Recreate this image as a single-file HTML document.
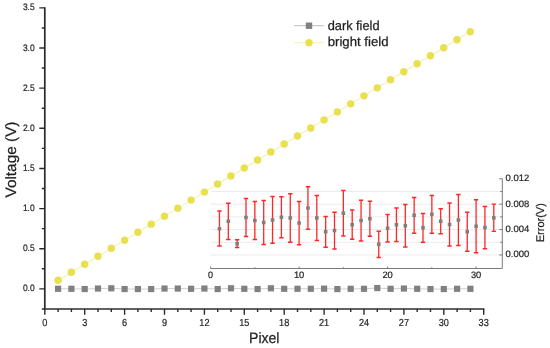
<!DOCTYPE html>
<html><head><meta charset="utf-8"><title>chart</title>
<style>html,body{margin:0;padding:0;background:#fff}body{width:550px;height:348px;overflow:hidden}</style></head>
<body>
<svg width="550" height="348" viewBox="0 0 550 348" style="display:block;font-family:'Liberation Sans', sans-serif;text-rendering:geometricPrecision">
<defs><filter id="soft" x="0" y="0" width="550" height="348" filterUnits="userSpaceOnUse"><feGaussianBlur stdDeviation="0.35"/></filter></defs>
<rect width="550" height="348" fill="#fff"/>
<g filter="url(#soft)">
<g stroke="#2b2b2b" stroke-width="1.7" fill="none">
<path d="M44.8 7.149999999999966 V309 H484.40000000000003"/>
</g>
<g stroke="#2b2b2b" stroke-width="1.4" fill="none">
<path d="M44.8 288.90 h-5.5 M44.8 248.75 h-5.5 M44.8 208.60 h-5.5 M44.8 168.45 h-5.5 M44.8 128.30 h-5.5 M44.8 88.15 h-5.5 M44.8 48.00 h-5.5 M44.8 7.85 h-5.5 M44.8 268.82 h-3 M44.8 228.67 h-3 M44.8 188.52 h-3 M44.8 148.37 h-3 M44.8 108.22 h-3 M44.8 68.07 h-3 M44.8 27.93 h-3 M44.8 308.97 h-3 M44.80 309 v5.8 M58.10 309 v3.1 M71.40 309 v3.1 M84.70 309 v5.8 M98.00 309 v3.1 M111.30 309 v3.1 M124.60 309 v5.8 M137.90 309 v3.1 M151.20 309 v3.1 M164.50 309 v5.8 M177.80 309 v3.1 M191.10 309 v3.1 M204.40 309 v5.8 M217.70 309 v3.1 M231.00 309 v3.1 M244.30 309 v5.8 M257.60 309 v3.1 M270.90 309 v3.1 M284.20 309 v5.8 M297.50 309 v3.1 M310.80 309 v3.1 M324.10 309 v5.8 M337.40 309 v3.1 M350.70 309 v3.1 M364.00 309 v5.8 M377.30 309 v3.1 M390.60 309 v3.1 M403.90 309 v5.8 M417.20 309 v3.1 M430.50 309 v3.1 M443.80 309 v5.8 M457.10 309 v3.1 M470.40 309 v3.1 M483.70 309 v5.8 "/>
</g>
<g fill="#1e1e1e" font-size="9.4" stroke="#1e1e1e" stroke-width="0.2">
<text x="34.7" y="291.40" text-anchor="end" textLength="11.8" lengthAdjust="spacingAndGlyphs">0.0</text>
<text x="34.7" y="251.25" text-anchor="end" textLength="11.8" lengthAdjust="spacingAndGlyphs">0.5</text>
<text x="34.7" y="211.10" text-anchor="end" textLength="11.8" lengthAdjust="spacingAndGlyphs">1.0</text>
<text x="34.7" y="170.95" text-anchor="end" textLength="11.8" lengthAdjust="spacingAndGlyphs">1.5</text>
<text x="34.7" y="130.80" text-anchor="end" textLength="11.8" lengthAdjust="spacingAndGlyphs">2.0</text>
<text x="34.7" y="90.65" text-anchor="end" textLength="11.8" lengthAdjust="spacingAndGlyphs">2.5</text>
<text x="34.7" y="50.50" text-anchor="end" textLength="11.8" lengthAdjust="spacingAndGlyphs">3.0</text>
<text x="34.7" y="10.35" text-anchor="end" textLength="11.8" lengthAdjust="spacingAndGlyphs">3.5</text>
<text x="42.25" y="325.7" font-size="10.2" textLength="5.1" lengthAdjust="spacingAndGlyphs">0</text>
<text x="82.15" y="325.7" font-size="10.2" textLength="5.1" lengthAdjust="spacingAndGlyphs">3</text>
<text x="122.05" y="325.7" font-size="10.2" textLength="5.1" lengthAdjust="spacingAndGlyphs">6</text>
<text x="161.95" y="325.7" font-size="10.2" textLength="5.1" lengthAdjust="spacingAndGlyphs">9</text>
<text x="199.30" y="325.7" font-size="10.2" textLength="10.2" lengthAdjust="spacingAndGlyphs">12</text>
<text x="239.20" y="325.7" font-size="10.2" textLength="10.2" lengthAdjust="spacingAndGlyphs">15</text>
<text x="279.10" y="325.7" font-size="10.2" textLength="10.2" lengthAdjust="spacingAndGlyphs">18</text>
<text x="319.00" y="325.7" font-size="10.2" textLength="10.2" lengthAdjust="spacingAndGlyphs">21</text>
<text x="358.90" y="325.7" font-size="10.2" textLength="10.2" lengthAdjust="spacingAndGlyphs">24</text>
<text x="398.80" y="325.7" font-size="10.2" textLength="10.2" lengthAdjust="spacingAndGlyphs">27</text>
<text x="438.70" y="325.7" font-size="10.2" textLength="10.2" lengthAdjust="spacingAndGlyphs">30</text>
<text x="478.60" y="325.7" font-size="10.2" textLength="10.2" lengthAdjust="spacingAndGlyphs">33</text>
</g>
<text x="249" y="343.3" font-size="15" fill="#1e1e1e" stroke="#1e1e1e" stroke-width="0.25" textLength="30.5" lengthAdjust="spacingAndGlyphs">Pixel</text>
<text transform="translate(15.5 197.5) rotate(-90)" font-size="15" fill="#1e1e1e" stroke="#1e1e1e" stroke-width="0.25" textLength="76" lengthAdjust="spacingAndGlyphs">Voltage (V)</text>
<polyline points="58.10,288.80 71.40,288.80 84.70,289.05 98.00,288.55 111.30,288.29 124.60,289.05 137.90,289.05 151.20,289.05 164.50,288.55 177.80,288.55 191.10,288.80 204.40,288.55 217.70,289.05 231.00,288.29 244.30,288.80 257.60,289.05 270.90,288.29 284.20,288.80 297.50,288.80 310.80,288.80 324.10,288.67 337.40,289.05 350.70,288.80 364.00,288.80 377.30,288.04 390.60,288.80 403.90,288.55 417.20,288.80 430.50,289.05 443.80,289.05 457.10,288.80 470.40,288.80" fill="none" stroke="#cfcfcf" stroke-width="1"/>
<g fill="#808080">
<rect x="55.00" y="285.70" width="6.2" height="6.2"/>
<rect x="68.30" y="285.70" width="6.2" height="6.2"/>
<rect x="81.60" y="285.95" width="6.2" height="6.2"/>
<rect x="94.90" y="285.45" width="6.2" height="6.2"/>
<rect x="108.20" y="285.19" width="6.2" height="6.2"/>
<rect x="121.50" y="285.95" width="6.2" height="6.2"/>
<rect x="134.80" y="285.95" width="6.2" height="6.2"/>
<rect x="148.10" y="285.95" width="6.2" height="6.2"/>
<rect x="161.40" y="285.45" width="6.2" height="6.2"/>
<rect x="174.70" y="285.45" width="6.2" height="6.2"/>
<rect x="188.00" y="285.70" width="6.2" height="6.2"/>
<rect x="201.30" y="285.45" width="6.2" height="6.2"/>
<rect x="214.60" y="285.95" width="6.2" height="6.2"/>
<rect x="227.90" y="285.19" width="6.2" height="6.2"/>
<rect x="241.20" y="285.70" width="6.2" height="6.2"/>
<rect x="254.50" y="285.95" width="6.2" height="6.2"/>
<rect x="267.80" y="285.19" width="6.2" height="6.2"/>
<rect x="281.10" y="285.70" width="6.2" height="6.2"/>
<rect x="294.40" y="285.70" width="6.2" height="6.2"/>
<rect x="307.70" y="285.70" width="6.2" height="6.2"/>
<rect x="321.00" y="285.57" width="6.2" height="6.2"/>
<rect x="334.30" y="285.95" width="6.2" height="6.2"/>
<rect x="347.60" y="285.70" width="6.2" height="6.2"/>
<rect x="360.90" y="285.70" width="6.2" height="6.2"/>
<rect x="374.20" y="284.94" width="6.2" height="6.2"/>
<rect x="387.50" y="285.70" width="6.2" height="6.2"/>
<rect x="400.80" y="285.45" width="6.2" height="6.2"/>
<rect x="414.10" y="285.70" width="6.2" height="6.2"/>
<rect x="427.40" y="285.95" width="6.2" height="6.2"/>
<rect x="440.70" y="285.95" width="6.2" height="6.2"/>
<rect x="454.00" y="285.70" width="6.2" height="6.2"/>
<rect x="467.30" y="285.70" width="6.2" height="6.2"/>
</g>
<polyline points="58.10,280.30 71.40,272.28 84.69,264.26 97.99,256.24 111.29,248.22 124.58,240.20 137.88,232.18 151.18,224.16 164.47,216.15 177.77,208.13 191.07,200.11 204.36,192.09 217.66,184.07 230.96,176.05 244.25,168.03 257.55,160.01 270.85,151.99 284.15,143.97 297.44,135.95 310.74,127.93 324.04,119.91 337.33,111.89 350.63,103.87 363.93,95.85 377.22,87.84 390.52,79.82 403.82,71.80 417.11,63.78 430.41,55.76 443.71,47.74 457.00,39.72 470.30,31.70" fill="none" stroke="#f5f1ae" stroke-width="1.1"/>
<g fill="#e9e050">
<circle cx="58.10" cy="280.30" r="3.7"/>
<circle cx="71.40" cy="272.28" r="3.7"/>
<circle cx="84.69" cy="264.26" r="3.7"/>
<circle cx="97.99" cy="256.24" r="3.7"/>
<circle cx="111.29" cy="248.22" r="3.7"/>
<circle cx="124.58" cy="240.20" r="3.7"/>
<circle cx="137.88" cy="232.18" r="3.7"/>
<circle cx="151.18" cy="224.16" r="3.7"/>
<circle cx="164.47" cy="216.15" r="3.7"/>
<circle cx="177.77" cy="208.13" r="3.7"/>
<circle cx="191.07" cy="200.11" r="3.7"/>
<circle cx="204.36" cy="192.09" r="3.7"/>
<circle cx="217.66" cy="184.07" r="3.7"/>
<circle cx="230.96" cy="176.05" r="3.7"/>
<circle cx="244.25" cy="168.03" r="3.7"/>
<circle cx="257.55" cy="160.01" r="3.7"/>
<circle cx="270.85" cy="151.99" r="3.7"/>
<circle cx="284.15" cy="143.97" r="3.7"/>
<circle cx="297.44" cy="135.95" r="3.7"/>
<circle cx="310.74" cy="127.93" r="3.7"/>
<circle cx="324.04" cy="119.91" r="3.7"/>
<circle cx="337.33" cy="111.89" r="3.7"/>
<circle cx="350.63" cy="103.87" r="3.7"/>
<circle cx="363.93" cy="95.85" r="3.7"/>
<circle cx="377.22" cy="87.84" r="3.7"/>
<circle cx="390.52" cy="79.82" r="3.7"/>
<circle cx="403.82" cy="71.80" r="3.7"/>
<circle cx="417.11" cy="63.78" r="3.7"/>
<circle cx="430.41" cy="55.76" r="3.7"/>
<circle cx="443.71" cy="47.74" r="3.7"/>
<circle cx="457.00" cy="39.72" r="3.7"/>
<circle cx="470.30" cy="31.70" r="3.7"/>
</g>
<path d="M294.2 25.7 H323.8" stroke="#bdbdbd" stroke-width="1"/>
<rect x="305.8" y="22.5" width="6.4" height="6.4" fill="#808080"/>
<path d="M294.2 42.7 H323.8" stroke="#f5f1ac" stroke-width="1"/>
<circle cx="309" cy="42.7" r="3.7" fill="#e9e050"/>
<text x="327.7" y="29.7" font-size="13" fill="#1e1e1e" stroke="#1e1e1e" stroke-width="0.25" textLength="51.8" lengthAdjust="spacingAndGlyphs">dark field</text>
<text x="327.7" y="45.8" font-size="13" fill="#1e1e1e" stroke="#1e1e1e" stroke-width="0.25" textLength="60.8" lengthAdjust="spacingAndGlyphs">bright field</text>
<path d="M210.6 254.95 H502 M210.6 242.25 H502 M210.6 229.55 H502 M210.6 216.85 H502 M210.6 204.15 H502 M210.6 191.45 H502 " stroke="#ebebeb" stroke-width="1" fill="none"/>
<path d="M210.6 268.5 H502.3 V178.75 M502.3 254.95 h-3 M502.3 242.25 h-2 M502.3 229.55 h-3 M502.3 216.85 h-2 M502.3 204.15 h-3 M502.3 191.45 h-2 M502.3 178.75 h-3 M210.60 268.5 v-2.0 M254.85 268.5 v-1.3 M299.10 268.5 v-2.0 M343.35 268.5 v-1.3 M387.60 268.5 v-2.0 M431.85 268.5 v-1.3 M476.10 268.5 v-2.0 " stroke="#7a7a7a" stroke-width="1" fill="none"/>
<g fill="#1e1e1e" font-size="9.3" stroke="#1e1e1e" stroke-width="0.2">
<text x="505.6" y="257.45" textLength="23.7" lengthAdjust="spacingAndGlyphs">0.000</text>
<text x="505.6" y="232.05" textLength="23.7" lengthAdjust="spacingAndGlyphs">0.004</text>
<text x="505.6" y="206.65" textLength="23.7" lengthAdjust="spacingAndGlyphs">0.008</text>
<text x="505.6" y="181.25" textLength="23.7" lengthAdjust="spacingAndGlyphs">0.012</text>
<text x="208.10" y="278.3" textLength="5" lengthAdjust="spacingAndGlyphs">0</text>
<text x="293.90" y="278.3" textLength="10.4" lengthAdjust="spacingAndGlyphs">10</text>
<text x="382.40" y="278.3" textLength="10.4" lengthAdjust="spacingAndGlyphs">20</text>
<text x="470.90" y="278.3" textLength="10.4" lengthAdjust="spacingAndGlyphs">30</text>
</g>
<text transform="translate(543.7 242.3) rotate(-90)" font-size="11.2" fill="#1e1e1e" stroke="#1e1e1e" stroke-width="0.2" textLength="39.2" lengthAdjust="spacingAndGlyphs">Error(V)</text>
<path d="M219.45 211 V246 M217.25 211 h4.4 M217.25 246 h4.4 M228.30 203.25 V239.5 M226.10 203.25 h4.4 M226.10 239.5 h4.4 M237.15 239.75 V247.5 M234.95 239.75 h4.4 M234.95 247.5 h4.4 M246.00 198.5 V236.5 M243.80 198.5 h4.4 M243.80 236.5 h4.4 M254.85 201.5 V239.5 M252.65 201.5 h4.4 M252.65 239.5 h4.4 M263.70 200.5 V244.5 M261.50 200.5 h4.4 M261.50 244.5 h4.4 M272.55 196.5 V243.25 M270.35 196.5 h4.4 M270.35 243.25 h4.4 M281.40 196.75 V237.75 M279.20 196.75 h4.4 M279.20 237.75 h4.4 M290.25 193.75 V242.25 M288.05 193.75 h4.4 M288.05 242.25 h4.4 M299.10 201.5 V244.75 M296.90 201.5 h4.4 M296.90 244.75 h4.4 M307.95 186.75 V229.25 M305.75 186.75 h4.4 M305.75 229.25 h4.4 M316.80 195.5 V240.5 M314.60 195.5 h4.4 M314.60 240.5 h4.4 M325.65 216.5 V247.25 M323.45 216.5 h4.4 M323.45 247.25 h4.4 M334.50 212.25 V249 M332.30 212.25 h4.4 M332.30 249 h4.4 M343.35 190.5 V236 M341.15 190.5 h4.4 M341.15 236 h4.4 M352.20 210 V239.25 M350.00 210 h4.4 M350.00 239.25 h4.4 M361.05 200.25 V241 M358.85 200.25 h4.4 M358.85 241 h4.4 M369.90 201.25 V236.25 M367.70 201.25 h4.4 M367.70 236.25 h4.4 M378.75 231.25 V257.5 M376.55 231.25 h4.4 M376.55 257.5 h4.4 M387.60 214.5 V242 M385.40 214.5 h4.4 M385.40 242 h4.4 M396.45 208 V241.5 M394.25 208 h4.4 M394.25 241.5 h4.4 M405.30 204.5 V247 M403.10 204.5 h4.4 M403.10 247 h4.4 M414.15 197.5 V233.25 M411.95 197.5 h4.4 M411.95 233.25 h4.4 M423.00 213.5 V242.25 M420.80 213.5 h4.4 M420.80 242.25 h4.4 M431.85 195.5 V233.25 M429.65 195.5 h4.4 M429.65 233.25 h4.4 M440.70 208.75 V233.75 M438.50 208.75 h4.4 M438.50 233.75 h4.4 M449.55 203 V246 M447.35 203 h4.4 M447.35 246 h4.4 M458.40 194.5 V245.5 M456.20 194.5 h4.4 M456.20 245.5 h4.4 M467.25 212.25 V251.25 M465.05 212.25 h4.4 M465.05 251.25 h4.4 M476.10 199.75 V252.75 M473.90 199.75 h4.4 M473.90 252.75 h4.4 M484.95 206.5 V248.75 M482.75 206.5 h4.4 M482.75 248.75 h4.4 M493.80 204.2 V231.4 M491.60 204.2 h4.4 M491.60 231.4 h4.4 " stroke="#ff2626" stroke-width="1.3" fill="none"/>
<g fill="#7f7f7f">
<rect x="217.65" y="226.95" width="3.6" height="3.6"/>
<rect x="226.50" y="219.45" width="3.6" height="3.6"/>
<rect x="235.35" y="241.95" width="3.6" height="3.6"/>
<rect x="244.20" y="215.70" width="3.6" height="3.6"/>
<rect x="253.05" y="218.70" width="3.6" height="3.6"/>
<rect x="261.90" y="220.70" width="3.6" height="3.6"/>
<rect x="270.75" y="218.20" width="3.6" height="3.6"/>
<rect x="279.60" y="215.45" width="3.6" height="3.6"/>
<rect x="288.45" y="216.20" width="3.6" height="3.6"/>
<rect x="297.30" y="221.20" width="3.6" height="3.6"/>
<rect x="306.15" y="206.20" width="3.6" height="3.6"/>
<rect x="315.00" y="216.20" width="3.6" height="3.6"/>
<rect x="323.85" y="229.95" width="3.6" height="3.6"/>
<rect x="332.70" y="228.70" width="3.6" height="3.6"/>
<rect x="341.55" y="211.45" width="3.6" height="3.6"/>
<rect x="350.40" y="222.95" width="3.6" height="3.6"/>
<rect x="359.25" y="218.70" width="3.6" height="3.6"/>
<rect x="368.10" y="216.95" width="3.6" height="3.6"/>
<rect x="376.95" y="242.45" width="3.6" height="3.6"/>
<rect x="385.80" y="226.45" width="3.6" height="3.6"/>
<rect x="394.65" y="222.95" width="3.6" height="3.6"/>
<rect x="403.50" y="223.95" width="3.6" height="3.6"/>
<rect x="412.35" y="213.45" width="3.6" height="3.6"/>
<rect x="421.20" y="225.95" width="3.6" height="3.6"/>
<rect x="430.05" y="212.45" width="3.6" height="3.6"/>
<rect x="438.90" y="219.45" width="3.6" height="3.6"/>
<rect x="447.75" y="222.70" width="3.6" height="3.6"/>
<rect x="456.60" y="218.20" width="3.6" height="3.6"/>
<rect x="465.45" y="229.95" width="3.6" height="3.6"/>
<rect x="474.30" y="224.45" width="3.6" height="3.6"/>
<rect x="483.15" y="225.70" width="3.6" height="3.6"/>
<rect x="492.00" y="216.10" width="3.6" height="3.6"/>
</g>
</g>
</svg>
</body></html>
